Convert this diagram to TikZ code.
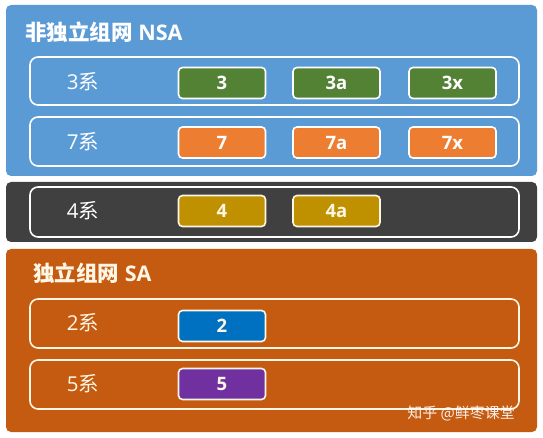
\documentclass[tikz,border=0pt]{standalone}
\usepackage{fontspec}
\setmainfont{Open Sans}
\newfontfamily\cjk{Noto Sans CJK SC}
\definecolor{pblue}{HTML}{5B9BD5}
\definecolor{pdark}{HTML}{404040}
\definecolor{porange}{HTML}{C55A11}
\definecolor{bgreen}{HTML}{548235}
\definecolor{borange}{HTML}{ED7D31}
\definecolor{bgold}{HTML}{BF9000}
\definecolor{bblue}{HTML}{0070C0}
\definecolor{bpurple}{HTML}{7030A0}
\definecolor{cream}{HTML}{FFF7E6}
\tikzset{
  panel/.style={rectangle, rounded corners=5pt, minimum width=531pt, inner sep=0pt, draw=none},
  rowbox/.style={rectangle, rounded corners=8pt, draw=#1, line width=1.6pt, minimum width=489pt, inner sep=0pt},
  tag/.style={rectangle, rounded corners=4pt, draw=#1, line width=1.6pt, minimum width=87pt, minimum height=31pt, inner sep=0pt, text=#1, font=\bfseries\fontsize{18.5}{18.5}\selectfont},
  rowlabel/.style={text=#1, font=\fontsize{20.5}{20.5}\selectfont, inner sep=0pt},
  title/.style={text=#1, font=\bfseries\fontsize{21.5}{21.5}\selectfont, inner sep=0pt, anchor=west},
}
\begin{document}
\begin{tikzpicture}[x=1pt,y=-1pt]
\fill[white] (0,0) rectangle (543,438);
\useasboundingbox (0,0) rectangle (543,438);
% panels
\node[panel, fill=pblue, minimum height=171pt] (nsa) at (271.5,90.5) {};
\node[panel, fill=pdark, minimum height=60pt] (four) at (271.5,212) {};
\node[panel, fill=porange, minimum height=183pt] (sa) at (271.5,340.5) {};
% titles
\node[title=white] (tnsa) at (25,32) {{\cjk\bfseries 非独立组网} NSA};
\node[title=cream] (tsa) at (33,273) {{\cjk\bfseries 独立组网} SA};
% rows
\node[rowbox=white, minimum height=48pt] (r3) at (274.5,81) {};
\node[rowbox=white, minimum height=49pt] (r7) at (274.5,141.5) {};
\node[rowbox=white, minimum height=50pt] (r4) at (274.5,212) {};
\node[rowbox=cream, minimum height=49pt] (r2) at (274.5,323.5) {};
\node[rowbox=cream, minimum height=49pt] (r5) at (274.5,384.5) {};
% row labels
\node[rowlabel=white] (l3) at (83,82) {3{\cjk 系}};
\node[rowlabel=white] (l7) at (83,142) {7{\cjk 系}};
\node[rowlabel=white] (l4) at (83,211) {4{\cjk 系}};
\node[rowlabel=cream] (l2) at (83,323) {2{\cjk 系}};
\node[rowlabel=cream] (l5) at (83,384) {5{\cjk 系}};
% tags
\node[tag=white, fill=bgreen] (b3) at (222,83) {3};
\node[tag=white, fill=bgreen] (b3a) at (336.5,83) {3a};
\node[tag=white, fill=bgreen] (b3x) at (452.5,83) {3x};
\node[tag=white, fill=borange] (b7) at (222,142.5) {7};
\node[tag=white, fill=borange] (b7a) at (336.5,142.5) {7a};
\node[tag=white, fill=borange] (b7x) at (452.5,142.5) {7x};
\node[tag=cream, fill=bgold] (b4) at (222,211) {4};
\node[tag=cream, fill=bgold] (b4a) at (336.5,211) {4a};
\node[tag=cream, fill=bblue] (b2) at (222,326) {2};
\node[tag=cream, fill=bpurple] (b5) at (222,384) {5};
% watermark
\node[text=white, opacity=0.9, font=\cjk\fontsize{15}{15}\selectfont, anchor=east, inner sep=0pt] (wm) at (515,413) {知乎 @鲜枣课堂};
\end{tikzpicture}
\end{document}
